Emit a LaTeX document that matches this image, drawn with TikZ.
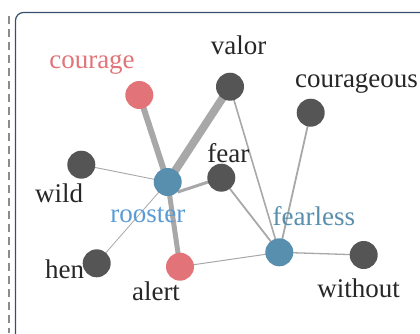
\documentclass[tikz,border=0pt]{standalone}
\usepackage{fontspec}
\setmainfont{Liberation Serif}
\usepackage{tikz}
\usetikzlibrary{backgrounds}

\definecolor{wordred}{HTML}{E27479}
\definecolor{wordblue}{HTML}{588EAE}
\definecolor{roosterblue}{HTML}{5B9BD5}
\definecolor{worddark}{HTML}{555555}
\definecolor{linkgray}{HTML}{A8A8A8}
\definecolor{panelblue}{HTML}{34506E}

\begin{document}
\begin{tikzpicture}[x=1pt, y=-1pt,
    word/.style={circle, minimum size=28pt, inner sep=0pt, fill=worddark},
    lbl/.style={font=\fontsize{27}{30}\selectfont, anchor=base, inner sep=0pt, text=black!85},
    link/.style={draw=linkgray}]
  \useasboundingbox (0,0) rectangle (420,333);
  \clip (0,0) rectangle (420,333);
  % Divider and panel frame
  \draw[gray!90, line width=2pt, dash pattern=on 8pt off 5pt] (8.5,16) -- (8.5,333);
  \draw[panelblue, line width=1.2pt, rounded corners=8pt] (15.5,12.5) rectangle (445,345);
  % Words
  \node[word, fill=wordred]  (courage)    at (139.3,95)    {};
  \node[word]                (valor)      at (230,86.7)    {};
  \node[word]                (courageous) at (310.7,112.7) {};
  \node[word]                (wild)       at (81.3,164.7)  {};
  \node[word, fill=wordblue] (rooster)    at (167.7,182)   {};
  \node[word]                (fear)       at (221.3,177.7) {};
  \node[word]                (hen)        at (96.7,263.3)  {};
  \node[word, fill=wordred]  (alert)      at (180,266.7)   {};
  \node[word, fill=wordblue] (fearless)   at (279.3,252.3) {};
  \node[word]                (without)    at (363.7,255)   {};
  % Links, thickness ~ weight
  \begin{scope}[on background layer]
    \draw[link, line width=8pt]   (valor.center) -- (rooster.center);
    \draw[link, line width=6pt]   (courage.center) -- (rooster.center);
    \draw[link, line width=5pt]   (alert.center) -- (rooster.center);
    \draw[link, line width=3pt]   (fear.center) -- (rooster.south east);
    \draw[link, line width=1.8pt] (fear.center) -- (fearless.center);
    \draw[link, line width=1.6pt] (valor.center) -- (fearless.center);
    \draw[link, line width=1.8pt] (courageous.center) -- (fearless.center);
    \draw[link, line width=1.3pt] (without.center) -- (fearless.center);
    \draw[link, line width=1pt]   (alert.center) -- (fearless.center);
    \draw[link, line width=0.9pt] (wild.center) -- (rooster.center);
    \draw[link, line width=0.8pt] (hen.center) -- (rooster.center);
  \end{scope}
  % Labels
  \node[lbl, text=wordred]     (courage-lbl)    at (92,68.3)    {courage};
  \node[lbl]                   (valor-lbl)      at (238.7,54)   {valor};
  \node[lbl]                   (courageous-lbl) at (356.5,87.3) {courageous};
  \node[lbl]                   (fear-lbl)       at (228.3,162.7) {fear};
  \node[lbl]                   (wild-lbl)       at (59.2,202.3) {wild};
  \node[lbl, text=roosterblue] (rooster-lbl)    at (147.8,222.3) {rooster};
  \node[lbl, text=wordblue]    (fearless-lbl)   at (313.8,225.7) {fearless};
  \node[lbl]                   (hen-lbl)        at (64.7,278.3) {hen};
  \node[lbl]                   (alert-lbl)      at (156,300)    {alert};
  \node[lbl]                   (without-lbl)    at (358.7,297.7) {without};
\end{tikzpicture}
\end{document}
